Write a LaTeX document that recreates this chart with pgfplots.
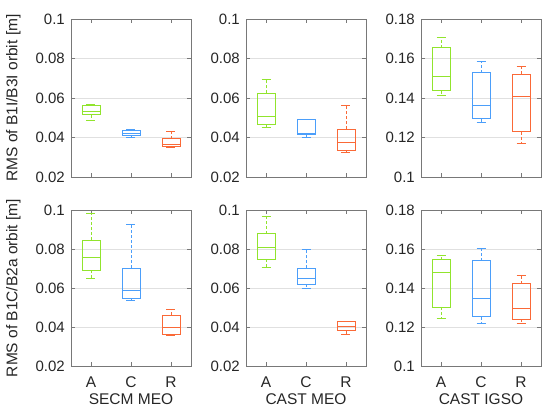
\documentclass[border=0pt]{standalone}
\usepackage{fontspec}
\setmainfont{Liberation Sans}
\usepackage{pgfplots}
\pgfplotsset{compat=1.18}
\usepgfplotslibrary{statistics}
\definecolor{colA}{RGB}{145,228,45}
\definecolor{colC}{RGB}{75,158,250}
\definecolor{colR}{RGB}{250,105,55}
\definecolor{axgray}{RGB}{120,120,120}
\pgfplotsset{
  /pgfplots/boxplot/draw/lower whisker/.code={%
    \draw[dash pattern=on 3pt off 2pt] (boxplot box cs:\pgfplotsboxplotvalue{lower quartile},0.5) -- (boxplot box cs:\pgfplotsboxplotvalue{lower whisker},0.5);
    \draw (boxplot whisker cs:\pgfplotsboxplotvalue{lower whisker},0) -- (boxplot whisker cs:\pgfplotsboxplotvalue{lower whisker},1);
  },
  /pgfplots/boxplot/draw/upper whisker/.code={%
    \draw[dash pattern=on 3pt off 2pt] (boxplot box cs:\pgfplotsboxplotvalue{upper quartile},0.5) -- (boxplot box cs:\pgfplotsboxplotvalue{upper whisker},0.5);
    \draw (boxplot whisker cs:\pgfplotsboxplotvalue{upper whisker},0) -- (boxplot whisker cs:\pgfplotsboxplotvalue{upper whisker},1);
  },
  panel/.style={
    scale only axis, width=120pt, anchor=south west,
    xmin=0.5, xmax=3.5, xtick={1,2,3},
    ymajorgrids, grid style={line width=0.7pt, black!12},
    axis line style={axgray, line width=0.8pt},
    major tick style={axgray, line width=0.8pt}, major tick length=4pt,
    tick align=inside,
    yticklabel style={text=black!85, font=\fontsize{15}{17}\selectfont, anchor=east, inner sep=0pt, xshift=-6pt},
    xticklabel style={text=black!85, font=\fontsize{15.5}{17}\selectfont, anchor=base, inner sep=0pt, yshift=-21pt},
    /pgf/number format/assume math mode=true,
    boxplot/draw direction=y,
    boxplot/box extend=0.45, boxplot/whisker extend=0.225,
    every axis plot/.append style={line width=0.8pt, solid},
    clip=false,
  },
  meo/.style={ymin=0.02, ymax=0.1, ytick={0.02,0.04,0.06,0.08,0.1}, yticklabels={0.02,0.04,0.06,0.08,0.1}},
  igso/.style={ymin=0.1, ymax=0.18, ytick={0.1,0.12,0.14,0.16,0.18}, yticklabels={0.1,0.12,0.14,0.16,0.18}},
  toprow/.style={height=158pt, xticklabels={}},
  botrow/.style={height=156pt, xticklabels={A,C,R},
    xlabel style={at={(axis description cs:0.5,0)}, anchor=center, yshift=-33pt, text=black!85, font=\fontsize{15.5}{17}\selectfont}},
  leftcol/.style={ylabel style={at={(axis description cs:-0.48,0.5)}, anchor=center, text=black!85, font=\fontsize{15.5}{17}\selectfont}},
}
\begin{document}
\begin{tikzpicture}
\useasboundingbox (0,0) rectangle (550pt,416pt);
% top row
\begin{axis}[panel, toprow, meo, leftcol, at={(71pt,239pt)}, ylabel={RMS of B1I/B3I orbit [m]}]
\addplot[colA, boxplot prepared={lower whisker=0.0487, lower quartile=0.0516, median=0.0531, upper quartile=0.0562, upper whisker=0.0570, draw position=1}] coordinates {};
\addplot[colC, boxplot prepared={lower whisker=0.0403, lower quartile=0.0410, median=0.0420, upper quartile=0.0438, upper whisker=0.0440, draw position=2}] coordinates {};
\addplot[colR, boxplot prepared={lower whisker=0.0352, lower quartile=0.0357, median=0.0365, upper quartile=0.0393, upper whisker=0.0432, draw position=3}] coordinates {};
\end{axis}
\begin{axis}[panel, toprow, meo, at={(246pt,239pt)}]
\addplot[colA, boxplot prepared={lower whisker=0.0450, lower quartile=0.0467, median=0.0506, upper quartile=0.0623, upper whisker=0.0694, draw position=1}] coordinates {};
\addplot[colC, boxplot prepared={lower whisker=0.0400, lower quartile=0.0415, median=0.0423, upper quartile=0.0491, upper whisker=0.0491, draw position=2}] coordinates {};
\addplot[colR, boxplot prepared={lower whisker=0.0327, lower quartile=0.0337, median=0.0376, upper quartile=0.0442, upper whisker=0.0562, draw position=3}] coordinates {};
\end{axis}
\begin{axis}[panel, toprow, igso, at={(421pt,239pt)}]
\addplot[colA, boxplot prepared={lower whisker=0.1411, lower quartile=0.1436, median=0.1507, upper quartile=0.1655, upper whisker=0.1705, draw position=1}] coordinates {};
\addplot[colC, boxplot prepared={lower whisker=0.1274, lower quartile=0.1296, median=0.1362, upper quartile=0.1529, upper whisker=0.1585, draw position=2}] coordinates {};
\addplot[colR, boxplot prepared={lower whisker=0.1172, lower quartile=0.1230, median=0.1408, upper quartile=0.1521, upper whisker=0.1558, draw position=3}] coordinates {};
\end{axis}
% bottom row
\begin{axis}[panel, botrow, meo, leftcol, at={(71pt,50pt)}, ylabel={RMS of B1C/B2a orbit [m]}, xlabel={SECM MEO}]
\addplot[colA, boxplot prepared={lower whisker=0.0650, lower quartile=0.0691, median=0.0757, upper quartile=0.0846, upper whisker=0.0981, draw position=1}] coordinates {};
\addplot[colC, boxplot prepared={lower whisker=0.0538, lower quartile=0.0545, median=0.0590, upper quartile=0.0703, upper whisker=0.0926, draw position=2}] coordinates {};
\addplot[colR, boxplot prepared={lower whisker=0.0357, lower quartile=0.0361, median=0.0397, upper quartile=0.0460, upper whisker=0.0492, draw position=3}] coordinates {};
\end{axis}
\begin{axis}[panel, botrow, meo, at={(246pt,50pt)}, xlabel={CAST MEO}]
\addplot[colA, boxplot prepared={lower whisker=0.0708, lower quartile=0.0747, median=0.0810, upper quartile=0.0879, upper whisker=0.0969, draw position=1}] coordinates {};
\addplot[colC, boxplot prepared={lower whisker=0.0600, lower quartile=0.0619, median=0.0650, upper quartile=0.0701, upper whisker=0.0797, draw position=2}] coordinates {};
\addplot[colR, boxplot prepared={lower whisker=0.0364, lower quartile=0.0381, median=0.0405, upper quartile=0.0427, upper whisker=0.0427, draw position=3}] coordinates {};
\end{axis}
\begin{axis}[panel, botrow, igso, at={(421pt,50pt)}, xlabel={CAST IGSO}]
\addplot[colA, boxplot prepared={lower whisker=0.1243, lower quartile=0.1301, median=0.1482, upper quartile=0.1545, upper whisker=0.1569, draw position=1}] coordinates {};
\addplot[colC, boxplot prepared={lower whisker=0.1221, lower quartile=0.1253, median=0.1349, upper quartile=0.1540, upper whisker=0.1602, draw position=2}] coordinates {};
\addplot[colR, boxplot prepared={lower whisker=0.1219, lower quartile=0.1241, median=0.1294, upper quartile=0.1422, upper whisker=0.1467, draw position=3}] coordinates {};
\end{axis}
\end{tikzpicture}
\end{document}
